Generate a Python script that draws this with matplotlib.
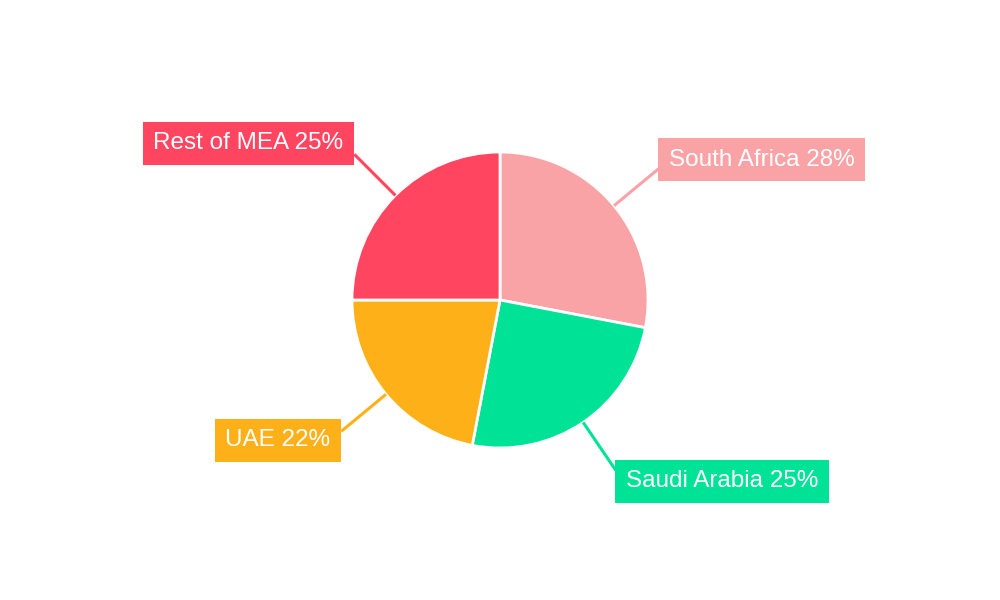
import numpy as np
import matplotlib.pyplot as plt

# Market share by region
regions = ['South Africa', 'Saudi Arabia', 'UAE', 'Rest of MEA']
shares = [28, 25, 22, 25]
colors = ['#F9A3A6', '#00E396', '#FEB019', '#FF4560']

plt.rcParams['font.family'] = ['Liberation Sans', 'DejaVu Sans']

fig = plt.figure(figsize=(10, 6), dpi=100)
ax = fig.add_axes([0, 0, 1, 1])

cx, cy, r = 500, 300, 148
wedges, _ = ax.pie(shares, colors=colors, startangle=90, counterclock=False,
                   center=(cx, cy), radius=r, frame=True,
                   wedgeprops=dict(edgecolor='white', linewidth=2))
ax.set_xlim(0, 1000)
ax.set_ylim(0, 600)
ax.set_aspect('equal')
ax.axis('off')

# label offsets (pixels) relative to the end of the leader line
dy_offsets = [9, -11, -9, 11]

for w, name, share, col, dy in zip(wedges, regions, shares, colors, dy_offsets):
    mid = np.deg2rad((w.theta1 + w.theta2) / 2)
    x0, y0 = cx + r * np.cos(mid), cy + r * np.sin(mid)
    x1, y1 = cx + 206 * np.cos(mid), cy + 206 * np.sin(mid)
    ax.plot([x0, x1], [y0, y1], color=col, linewidth=2.2, solid_capstyle='butt')
    right = np.cos(mid) > 0
    tx = x1 + 10 if right else x1 - 11
    ax.text(tx, y1 + dy, f'{name} {share}%', color='white', fontsize=17.5,
            ha='left' if right else 'right', va='center',
            bbox=dict(boxstyle='square,pad=0.43', facecolor=col, edgecolor='none'))

fig.savefig('out.png', dpi=100)
